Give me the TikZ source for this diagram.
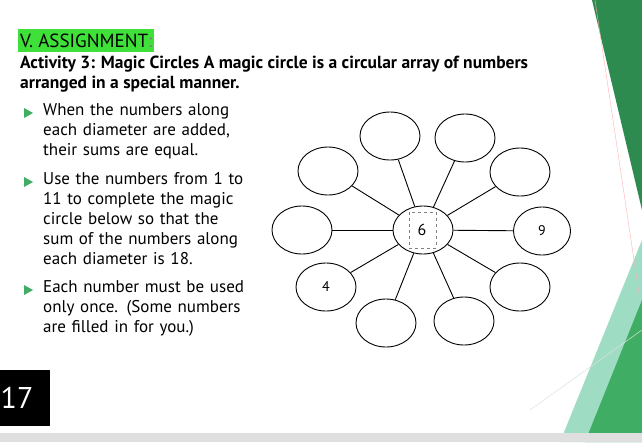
\documentclass[tikz,border=0pt]{standalone}
\usepackage{fontspec}
\setmainfont{PT Sans}
\usetikzlibrary{shapes.geometric}
\definecolor{dg}{HTML}{2E8B50}
\definecolor{lg}{HTML}{9FDCC4}
\definecolor{mg}{HTML}{3FAE64}
\definecolor{hl}{HTML}{3FE03A}
\begin{document}
\begin{tikzpicture}[x=1pt,y=-1pt,
  oval/.style={draw,line width=0.9pt,ellipse,minimum width=60pt,minimum height=48pt,inner sep=0pt,font=\fontsize{14}{14}\selectfont},
  spoke/.style={line width=0.9pt},
  btext/.style={anchor=north west,align=left,font=\fontsize{17}{20}\selectfont,text width=220pt,inner sep=0pt},
  bul/.style={fill=mg,draw=none}]
\useasboundingbox (0,0) rectangle (642,442);
\fill[white] (0,0) rectangle (642,442);
% green decorations
\fill[lg] (642,240) -- (642,442) -- (560,442) -- cycle;
\fill[mg] (642,300) -- (642,442) -- (585,442) -- cycle;
\fill[dg] (592,0) -- (642,0) -- (642,210) -- cycle;
\draw[red!30,line width=0.4pt] (595,0) -- (640,300);
\draw[gray!25,line width=0.5pt] (530,410) -- (642,330);
\fill[gray!25] (0,433) rectangle (642,442);
% page number
\fill[black] (0,370) rectangle (50,426);
\node[text=white,font=\fontsize{30}{30}\selectfont] (pg) at (17,398) {17};
% title
\fill[hl] (18,29) rectangle (154,52);
\node[anchor=base west,inner sep=0pt,font=\fontsize{19}{19}\selectfont] (t1) at (20,47) {V. ASSIGNMENT\textcolor{gray}{:}};
\node[anchor=north west,align=left,inner sep=0pt,font=\bfseries\fontsize{17.5}{20}\selectfont] (t2) at (20,56) {Activity 3: Magic Circles A magic circle is a circular array of numbers\\arranged in a special manner.};
% bullets
\foreach \yy [count=\i] in {108,177,285}{\fill[bul] (24,\yy) -- (33,\yy+5) -- (24,\yy+10) -- cycle;}
\node[btext] (b1) at (43,103) {When the numbers along\\each diameter are added,\\their sums are equal.};
\node[btext] (b2) at (43,172) {Use the numbers from 1 to\\11 to complete the magic\\circle below so that the\\sum of the numbers along\\each diameter is 18.};
\node[btext] (b3) at (43,280) {Each number must be used\\only once. (Some numbers\\are filled in for you.)};
% magic circle
\node[oval] (c) at (423,230) {};
\draw[gray,dashed,line width=0.5pt] (409,212) rectangle (436,248);
\node[font=\fontsize{16}{16}\selectfont] (six) at (422,230) {6};
\node[oval] (n1) at (390,136) {};
\node[oval] (n2) at (465,138) {};
\node[oval] (n3) at (328,171) {};
\node[oval] (n4) at (520,172) {};
\node[oval] (n5) at (302,230) {};
\node[oval,minimum width=57pt] (n6) at (542,231) {9};
\node[oval] (n7) at (326,287) {4};
\node[oval] (n8) at (520,287) {};
\node[oval] (n9) at (386,323) {};
\node[oval] (n10) at (464,321) {};
\foreach \n in {n1,n2,n3,n4,n5,n6,n7,n8,n9,n10}{\draw[spoke] (c) -- (\n);}
\end{tikzpicture}
\end{document}
